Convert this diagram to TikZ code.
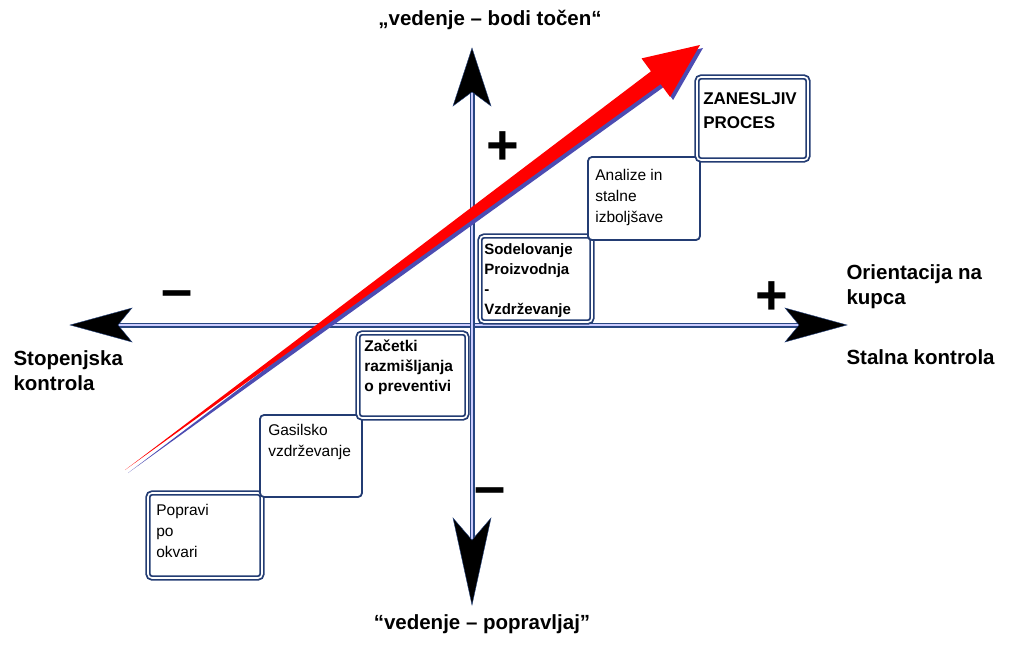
\documentclass[tikz,border=0pt]{standalone}
\usepackage{fontspec}
\setmainfont{Liberation Sans}
\usetikzlibrary{positioning}
\definecolor{axisblue}{RGB}{40,70,130}
\definecolor{boxblue}{RGB}{35,60,115}

\begin{document}
\begin{tikzpicture}[x=1pt,y=-1pt,
  box/.style = {draw=boxblue, line width=1.8pt, rounded corners=4pt,
    fill=white, inner sep=0pt},
  dbox/.style = {box, double=white, double distance=1.6pt},
  boxtext/.style = {align=left, anchor=north west, font=\fontsize{15.5}{21}\selectfont, inner sep=0pt},
  title/.style = {font=\bfseries\fontsize{20.5}{25}\selectfont, align=left},
  sign/.style = {font=\bfseries\fontsize{56}{56}\selectfont}]
  \useasboundingbox (0,0) rectangle (1024,650);

  % axes
  \draw[axisblue, line width=5pt] (100,325) -- (815,325);
  \draw[white!80!blue, line width=1.2pt] (100,325) -- (815,325);
  \draw[axisblue, line width=5pt] (472,80) -- (472,575);
  \draw[white!80!blue, line width=1.2pt] (472,80) -- (472,575);
  \filldraw[fill=black, draw=axisblue] (472,48) -- (491,106) -- (472,92) -- (453,106) -- cycle;
  \filldraw[fill=black, draw=axisblue] (472,605) -- (491,518) -- (472,540) -- (453,518) -- cycle;
  \filldraw[fill=black, draw=axisblue] (70,325) -- (132,308) -- (118,325) -- (132,342) -- cycle;
  \filldraw[fill=black, draw=axisblue] (847,325) -- (785,308) -- (799,325) -- (785,342) -- cycle;

  % steps
  \node[dbox, minimum width=114pt, minimum height=85pt] (popravi) at (205,535.5) {};
  \node[box, minimum width=102pt, minimum height=82pt] (gasilsko) at (311,456) {};
  \node[dbox, minimum width=109pt, minimum height=85pt] (zacetki) at (412.5,375.5) {};
  \node[dbox, minimum width=112pt, minimum height=86pt] (sodelovanje) at (536,279) {};
  \node[box, minimum width=112pt, minimum height=83pt] (analize) at (644,198.5) {};
  \node[dbox, minimum width=111pt, minimum height=83pt] (proces) at (752.5,118.5) {};

  \node[boxtext, below right=12pt and 9pt of popravi.north west] {Popravi\\po\\okvari};
  \node[boxtext, below right=10pt and 9pt of gasilsko.north west] {Gasilsko\\vzdrževanje};
  \node[boxtext, font=\bfseries\fontsize{15.5}{20}\selectfont, below right=8pt and 7pt of zacetki.north west] {Začetki\\razmišljanja\\o preventivi};
  \node[boxtext, font=\bfseries\fontsize{15}{20}\selectfont, below right=8pt and 5pt of sodelovanje.north west] {Sodelovanje\\Proizvodnja\\-\\Vzdrževanje};
  \node[boxtext, below right=13pt and 8pt of analize.north west] {Analize in\\stalne\\izboljšave};
  \node[boxtext, font=\bfseries\fontsize{17}{24}\selectfont, below right=16pt and 7pt of proces.north west] {ZANESLJIV\\PROCES};

  % red arrow
  \fill[blue!40!gray] (128,473) -- (663.6,87.1) -- (673.1,100.0) -- (703,48) -- (644.5,61.4) -- (654.0,74.3) -- cycle;
  \fill[red] (125,470) -- (660.6,84.1) -- (670.1,97.0) -- (700,45) -- (641.5,58.4) -- (651.0,71.3) -- cycle;

  % labels
  \node[title] (top) at (490,20) {„vedenje – bodi točen“};
  \node[title] (bottom) at (482,624) {“vedenje – popravljaj”};
  \node[title, anchor=west] (kupec) at (843,287) {Orientacija na\\kupca};
  \node[title, anchor=west] (stalna) at (843,357) {Stalna kontrola};
  \node[title, anchor=west] (stopenjska) at (10,371) {Stopenjska\\kontrola};
  \node[sign] (plusv) at (503,148) {+};
  \node[sign] (plush) at (772,298) {+};
  \node[sign] (minush) at (177,300) {–};
  \node[sign] (minusv) at (490,497) {–};
\end{tikzpicture}
\end{document}
